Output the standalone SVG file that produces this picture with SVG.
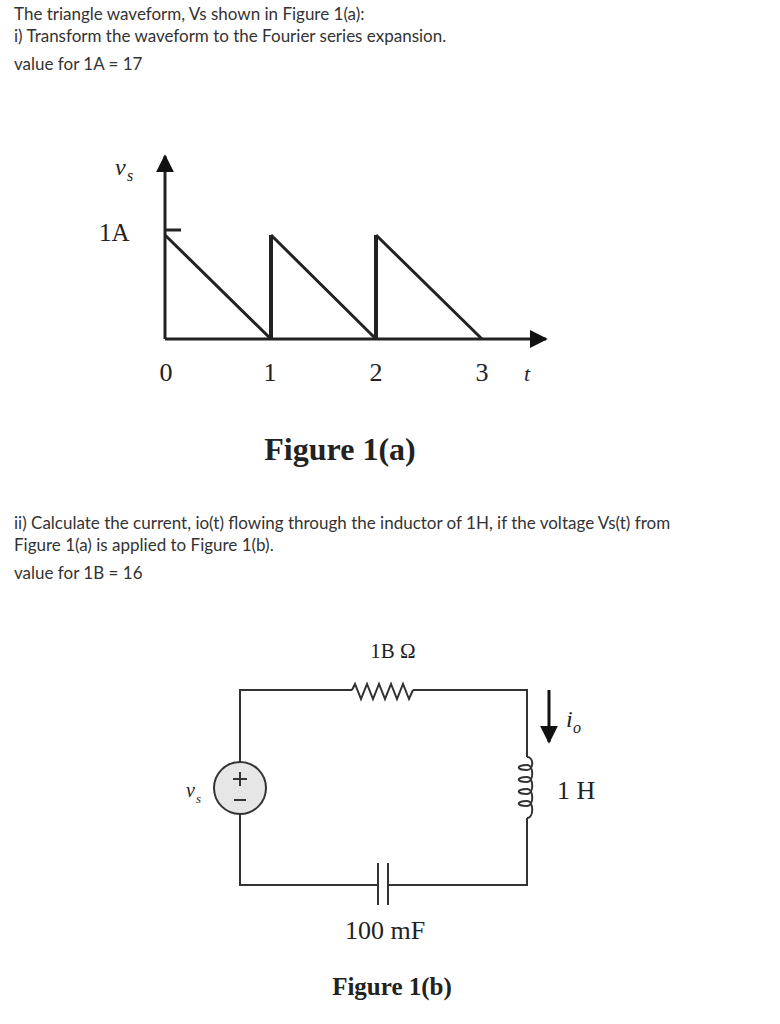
<svg xmlns="http://www.w3.org/2000/svg" width="780" height="1024" viewBox="0 0 780 1024">
<style>
.q{font-family:Lato,"Open Sans",sans-serif;font-size:17px;fill:#333}
.s{font-family:"Liberation Serif",serif;fill:#222}
.w{stroke:#222;stroke-width:3;fill:none}
.c{stroke:#333;stroke-width:2;fill:none}
</style>
<defs>
<marker id="ah" viewBox="0 0 10 10" refX="9" refY="5" markerWidth="6" markerHeight="6" orient="auto"><path d="M0,0L10,5L0,10z" fill="#111"/></marker>
</defs>
<rect width="780" height="1024" fill="#fff"/>
<text class="q" x="14" y="20">The triangle waveform, Vs shown in Figure 1(a):</text>
<text class="q" x="14" y="42">i) Transform the waveform to the Fourier series expansion.</text>
<text class="q" x="14" y="70">value for 1A = 17</text>
<text class="q" x="14" y="529">ii) Calculate the current, io(t) flowing through the inductor of 1H, if the voltage Vs(t) from</text>
<text class="q" x="14" y="551">Figure 1(a) is applied to Figure 1(b).</text>
<text class="q" x="14" y="579">value for 1B = 16</text>
<g id="fig1a">
<line class="w" x1="165" y1="339" x2="165" y2="156" marker-end="url(#ah)"/>
<line class="w" x1="165" y1="339" x2="546" y2="339" marker-end="url(#ah)"/>
<line class="w" x1="165" y1="230" x2="181" y2="230"/>
<polygon points="269,235 273,235 273,339 269,339" fill="#222"/>
<polygon points="374,235 378,235 378,339 374,339" fill="#222"/>
<path class="w" d="M165,235 L271,339 M271,235 L376,339 M376,235 L482,339"/>
<text class="s" x="115" y="175" font-size="24" font-style="italic">v</text>
<text class="s" x="127" y="181" font-size="16" font-style="italic">s</text>
<text class="s" x="99" y="241" font-size="25">1A</text>
<text class="s" x="166" y="381" font-size="26" text-anchor="middle">0</text>
<text class="s" x="270" y="381" font-size="26" text-anchor="middle">1</text>
<text class="s" x="376" y="381" font-size="26" text-anchor="middle">2</text>
<text class="s" x="482" y="381" font-size="26" text-anchor="middle">3</text>
<text class="s" x="527" y="381" font-size="22" font-style="italic" text-anchor="middle">t</text>
<text class="s" x="340" y="460" font-size="32" font-weight="bold" text-anchor="middle">Figure 1(a)</text>
</g>
<g id="connectors">
<polyline class="c" points="352,690 240,690 240,762"/>
<polyline class="c" points="240,814 240,885 378,885"/>
<polyline class="c" points="388,885 527,885 527,818"/>
<polyline class="c" points="527,757 527,690 413,690"/>
</g>
<g id="resistor"><polyline class="c" points="352,690 355,684 361,699 367,684 373,699 379,684 385,699 391,684 397,699 403,684 409,699 413,690"/></g>
<g id="source">
<circle cx="240" cy="788" r="26" fill="#e6e6e6" stroke="#333" stroke-width="2"/>
<line class="c" x1="233" y1="779" x2="247" y2="779"/><line class="c" x1="240" y1="772" x2="240" y2="786"/>
<line class="c" x1="234" y1="800" x2="246" y2="800"/>
<text class="s" x="186" y="797" font-size="20" font-style="italic">v</text>
<text class="s" x="196" y="803" font-size="13" font-style="italic">s</text>
</g>
<g id="inductor"><path class="c" d="M527,757 C534,757 534,770 527,770 C516,770 516,765 527,765 C534,765 534,782 527,782 C516,782 516,777 527,777 C534,777 534,794 527,794 C516,794 516,789 527,789 C534,789 534,806 527,806 C516,806 516,801 527,801 C534,801 534,818 527,818"/></g>
<g id="capacitor"><line class="c" x1="378" y1="863" x2="378" y2="905"/><line class="c" x1="388" y1="863" x2="388" y2="905"/></g>
<g id="current"><line x1="549" y1="690" x2="549" y2="742" stroke="#111" stroke-width="3" marker-end="url(#ah)"/>
<text class="s" x="566" y="727" font-size="24" font-style="italic">i</text><text class="s" x="573" y="733" font-size="16" font-style="italic">o</text></g>
<text class="s" x="393" y="658" font-size="21" text-anchor="middle">1B Ω</text>
<text class="s" x="557" y="799" font-size="26">1 H</text>
<text class="s" x="385" y="939" font-size="26" text-anchor="middle">100 mF</text>
<text class="s" x="392" y="995" font-size="25" font-weight="bold" text-anchor="middle">Figure 1(b)</text>
</svg>
